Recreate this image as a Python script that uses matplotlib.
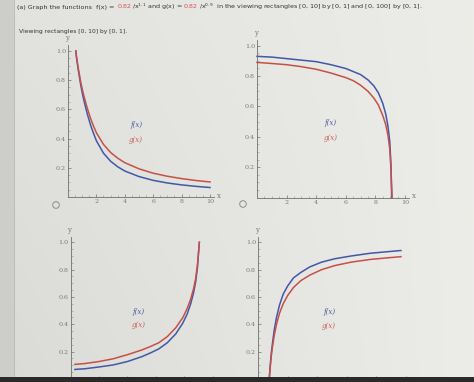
import numpy as np
import matplotlib
matplotlib.use("Agg")
import matplotlib.pyplot as plt
from matplotlib.patches import Rectangle, Circle

W, H = 474, 382

# values, one pair of lists per curve
# panel 1 (top left)
p1_f_x = [0.55, 0.6, 0.7, 0.8, 0.9, 1.0, 1.1, 1.25, 1.4, 1.6, 1.8, 2.0, 2.5, 3.0, 3.5, 4.0, 5.0, 6.0, 7.0, 8.0, 9.0, 10.0]
p1_f_y = [1.0, 0.955, 0.885, 0.825, 0.765, 0.715, 0.67, 0.61, 0.555, 0.49, 0.435, 0.385, 0.30, 0.245, 0.207, 0.178, 0.14, 0.114, 0.096, 0.083, 0.073, 0.065]
p1_g_x = [0.55, 0.6, 0.7, 0.8, 0.9, 1.0, 1.1, 1.25, 1.4, 1.6, 1.8, 2.0, 2.5, 3.0, 3.5, 4.0, 5.0, 6.0, 7.0, 8.0, 9.0, 10.0]
p1_g_y = [1.0, 0.96, 0.895, 0.84, 0.785, 0.74, 0.70, 0.645, 0.595, 0.535, 0.485, 0.44, 0.36, 0.305, 0.266, 0.235, 0.193, 0.163, 0.142, 0.126, 0.113, 0.103]

# panel 2 (top right)
p2_f_x = [0, 1, 2, 3, 4, 5, 6, 6.5, 7, 7.5, 7.9, 8.2, 8.5, 8.7, 8.85, 8.97, 9.05, 9.1]
p2_f_y = [0.93, 0.925, 0.915, 0.905, 0.895, 0.875, 0.85, 0.83, 0.81, 0.775, 0.735, 0.69, 0.62, 0.55, 0.47, 0.37, 0.22, 0.0]
p2_g_x = [0, 1, 2, 3, 4, 5, 6, 6.5, 7, 7.5, 7.9, 8.2, 8.5, 8.7, 8.85, 8.97, 9.05, 9.13]
p2_g_y = [0.89, 0.883, 0.875, 0.862, 0.845, 0.82, 0.79, 0.77, 0.74, 0.70, 0.655, 0.61, 0.54, 0.48, 0.41, 0.32, 0.19, 0.0]

# panel 3 (bottom left)
p3_f_x = [0.3, 1.0, 2.0, 3.0, 4.0, 5.0, 5.6, 6.2, 6.8, 7.4, 7.9, 8.2, 8.45, 8.65, 8.8, 8.93, 9.06]
p3_f_y = [0.07, 0.075, 0.088, 0.103, 0.128, 0.163, 0.19, 0.22, 0.265, 0.33, 0.41, 0.475, 0.55, 0.63, 0.71, 0.82, 1.0]
p3_g_x = [0.3, 1.0, 2.0, 3.0, 4.0, 5.0, 5.6, 6.2, 6.8, 7.4, 7.9, 8.2, 8.45, 8.65, 8.8, 8.93, 9.06]
p3_g_y = [0.107, 0.113, 0.128, 0.148, 0.178, 0.212, 0.237, 0.265, 0.31, 0.375, 0.45, 0.515, 0.585, 0.66, 0.735, 0.84, 1.0]

# panel 4 (bottom right)
p4_f_x = [0.76, 0.82, 0.9, 1.0, 1.1, 1.25, 1.45, 1.7, 2.0, 2.4, 2.9, 3.5, 4.3, 5.2, 6.3, 7.6, 9.66]
p4_f_y = [0.0, 0.09, 0.19, 0.28, 0.36, 0.45, 0.54, 0.62, 0.68, 0.74, 0.78, 0.82, 0.855, 0.88, 0.90, 0.92, 0.94]
p4_g_x = [0.76, 0.82, 0.9, 1.0, 1.1, 1.25, 1.45, 1.7, 2.0, 2.4, 2.9, 3.5, 4.3, 5.2, 6.3, 7.6, 9.66]
p4_g_y = [0.0, 0.08, 0.17, 0.25, 0.32, 0.40, 0.48, 0.55, 0.61, 0.67, 0.72, 0.76, 0.80, 0.83, 0.855, 0.875, 0.895]

x_ticks = [2, 4, 6, 8, 10]
y_ticks = [0.2, 0.4, 0.6, 0.8, 1.0]

BLUE = '#4257a8'
RED = '#c65048'
TICK = '#7a7a78'

fig = plt.figure(figsize=(W / 100, H / 100), dpi=100)

# photo-like background
bg = fig.add_axes([0, 0, 1, 1])
yy, xx = np.mgrid[0:1:60j, 0:1:80j]
shade = 226 + 10 * xx - 8 * yy * (1 - xx)
img = np.dstack([shade, shade, shade - 4]) / 255.0
bg.imshow(np.clip(img, 0, 1), aspect='auto', extent=[0, W, H, 0], interpolation='bilinear')
bg.add_patch(Rectangle((0, 0), 14, H, color='#cdcdca', lw=0))
bg.plot([14, 14], [0, H], color='#b5b5b2', lw=0.6)
bg.set_xlim(0, W)
bg.set_ylim(H, 0)
bg.axis('off')

# radio buttons
for cx, cy in [(56, 205), (243, 204)]:
    bg.add_patch(Circle((cx, cy), 3.3, fill=False, ec='#8d8d8b', lw=0.7))


def make_axes(x0, y0, sx, sy, xmax=10.25, ymax=1.04, xlabels=True):
    ax = fig.add_axes([x0 / W, 1 - y0 / H, sx * xmax / W, sy * ymax / H])
    ax.set_xlim(0, xmax)
    ax.set_ylim(0, ymax)
    ax.patch.set_alpha(0)
    for s in ['top', 'right']:
        ax.spines[s].set_visible(False)
    for s in ['left', 'bottom']:
        ax.spines[s].set_color('#6f6f6d')
        ax.spines[s].set_linewidth(0.6)
    ax.set_xticks(x_ticks)
    ax.set_yticks(y_ticks)
    ax.set_xticks(np.arange(0.5, 10.01, 0.5), minor=True)
    ax.set_yticks(np.arange(0.05, 1.01, 0.05), minor=True)
    ax.set_yticklabels(['%.1f' % v for v in y_ticks])
    if not xlabels:
        ax.set_xticklabels([])
    ax.tick_params(which='major', direction='in', length=2.5, width=0.5, color='#6f6f6d',
                   labelsize=4.6, labelcolor=TICK, pad=1.5)
    ax.tick_params(which='minor', direction='in', length=1.3, width=0.4, color='#8a8a88')
    for lab in ax.get_xticklabels() + ax.get_yticklabels():
        lab.set_family('DejaVu Serif')
    ax.text(-0.1, ymax + 0.02, 'y', ha='center', va='bottom', fontsize=5,
            color=TICK, family='DejaVu Serif')
    if xlabels:
        ax.text(xmax + 0.25, 0.01, 'x', ha='left', va='center', fontsize=5,
                color=TICK, family='DejaVu Serif')
    return ax


def draw(ax, fx, fy, gx, gy, lx, ly1, ly2):
    ax.plot(fx, fy, color=BLUE, lw=1.1, clip_on=False)
    ax.plot(gx, gy, color=RED, lw=1.1, clip_on=False)
    ax.text(lx, ly1, 'f(x)', color='#4f5a9a', fontsize=5, style='italic',
            family='DejaVu Serif', ha='center', va='center')
    ax.text(lx, ly2, 'g(x)', color='#c9605a', fontsize=5, style='italic',
            family='DejaVu Serif', ha='center', va='center')


ax1 = make_axes(68, 197, 14.2, 146)
draw(ax1, p1_f_x, p1_f_y, p1_g_x, p1_g_y, 4.8, 0.49, 0.39)

ax2 = make_axes(257, 197.7, 14.8, 152)
draw(ax2, p2_f_x, p2_f_y, p2_g_x, p2_g_y, 5.0, 0.49, 0.39)

ax3 = make_axes(70.7, 379, 14.2, 136.7, xlabels=False)
draw(ax3, p3_f_x, p3_f_y, p3_g_x, p3_g_y, 4.8, 0.49, 0.395)

ax4 = make_axes(258, 379, 14.8, 136.7, xlabels=False)
draw(ax4, p4_f_x, p4_f_y, p4_g_x, p4_g_y, 4.8, 0.49, 0.385)

# heading text, pieces placed one after another
fs = 4.55
ty = 1 - 7 / H
pieces = [('(a) Graph the functions  f(x) = ', '#333333'),
          ('0.82', '#d9534f'),
          ('/x$^{1.1}$ and g(x) = ', '#333333'),
          ('0.82', '#d9534f'),
          ('/x$^{0.9}$  in the viewing rectangles [0, 10] by [0, 1] and [0, 100] by [0, 1].', '#333333')]
renderer = fig.canvas.get_renderer()
cx = 17.0
for txt, col in pieces:
    t = fig.text(cx / W, ty, txt, fontsize=fs, color=col, va='center')
    cx = t.get_window_extent(renderer).x1 + 0.8
fig.text(19 / W, 1 - 32 / H, 'Viewing rectangles [0, 10] by [0, 1].', fontsize=4.3,
         color='#333333', va='center')

# dark screen edge at the bottom
bar = fig.add_axes([0, 0, 1, 5 / H])
bar.set_facecolor('#2a2a2a')
bar.set_xticks([])
bar.set_yticks([])
for s in bar.spines.values():
    s.set_visible(False)

fig.savefig('out.png', dpi=100)
